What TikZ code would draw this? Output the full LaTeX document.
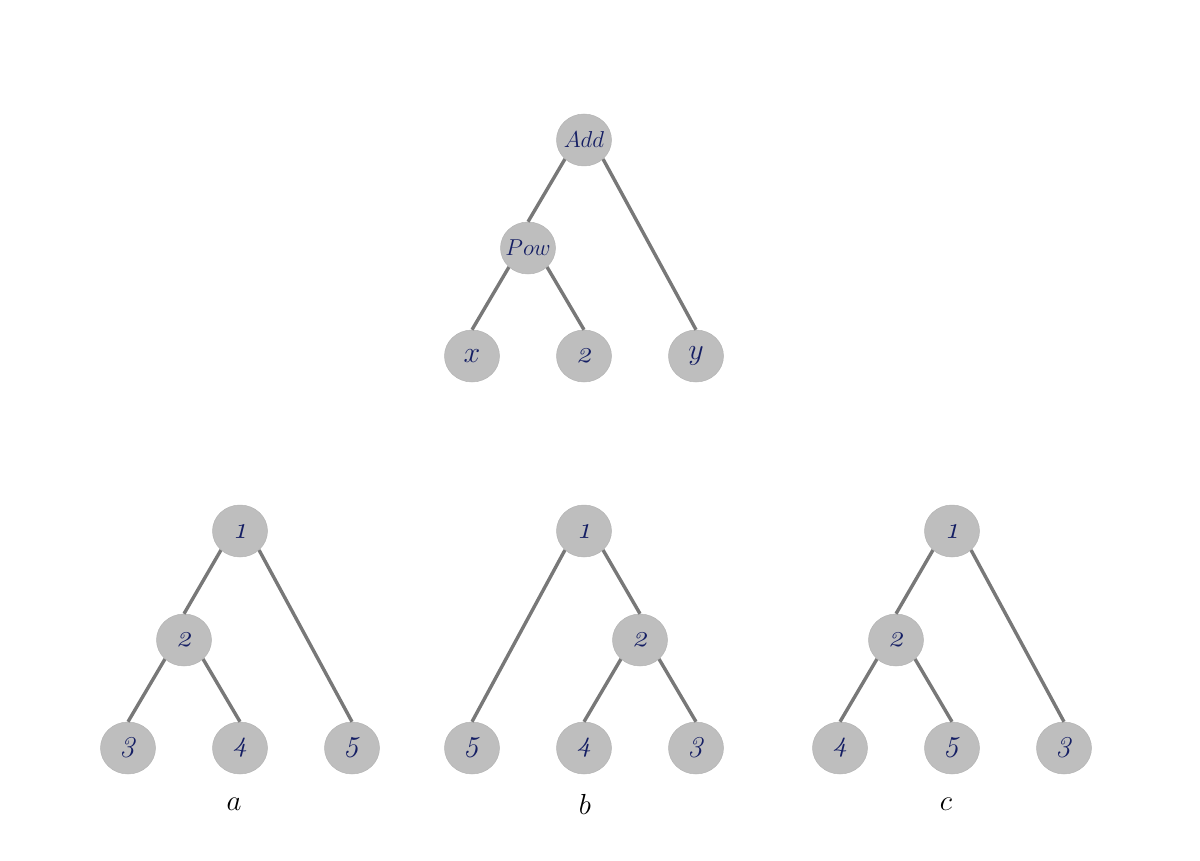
\RequirePackage{fix-cm}
\documentclass[tikz,border=0pt]{standalone}
\usepackage{fontspec}
\newfontfamily\osfont[Numbers=OldStyle]{Latin Modern Roman}
\usetikzlibrary{shapes.geometric}
\definecolor{nodefill}{RGB}{190,190,190}
\definecolor{edgegray}{RGB}{120,120,120}
\definecolor{txtblue}{RGB}{20,30,100}
\tikzset{
  tnode/.style={ellipse, fill=nodefill, draw=nodefill!95!black, line width=0.5pt, minimum width=55pt, minimum height=52pt, inner sep=0pt, text=txtblue},
  opnode/.style={tnode, font=\fontsize{23}{25}\selectfont},
  numnode/.style={tnode, font=\osfont\fontsize{30}{32}\selectfont\itshape},
  varnode/.style={tnode, font=\fontsize{30}{32}\selectfont},
  edge/.style={draw=edgegray, line width=3.4pt},
  treelabel/.style={font=\fontsize{29}{31}\selectfont, text=black}
}
\begin{document}
\begin{tikzpicture}[x=1pt,y=-1pt]
\useasboundingbox (0,0) rectangle (1200,861);
% top tree
\node[opnode] (add) at (584,140) {\makebox[30pt]{$Add$}};
\node[opnode] (pow) at (528,248) {\makebox[30pt]{$Pow$}};
\node[varnode] (x) at (472,356) {$x$};
\node[numnode] (two) at (584,356) {2};
\node[varnode] (y) at (696,356) {$y$};
% tree a
\node[numnode] (a1) at (240,531) {1};
\node[numnode] (a2) at (184,640) {2};
\node[numnode] (a3) at (128,748) {3};
\node[numnode] (a4) at (240,748) {4};
\node[numnode] (a5) at (352,748) {5};
\node[treelabel] (la) at (234,804) {$a$};
% tree b
\node[numnode] (b1) at (584,531) {1};
\node[numnode] (b2) at (640,640) {2};
\node[numnode] (b5) at (472,748) {5};
\node[numnode] (b4) at (584,748) {4};
\node[numnode] (b3) at (696,748) {3};
\node[treelabel] (lb) at (585,804) {$b$};
% tree c
\node[numnode] (c1) at (952,531) {1};
\node[numnode] (c2) at (896,640) {2};
\node[numnode] (c4) at (840,748) {4};
\node[numnode] (c5) at (952,748) {5};
\node[numnode] (c3) at (1064,748) {3};
\node[treelabel] (lc) at (946,804) {$c$};
% edges: left children from the parent's lower-left, right children from its lower-right
\foreach \p/\c in {add/pow, pow/x, a1/a2, a2/a3, b1/b5, b2/b4, c1/c2, c2/c4}
  \draw[edge] (\p.-135) -- (\c.north);
\foreach \p/\c in {add/y, pow/two, a1/a5, a2/a4, b1/b2, b2/b3, c1/c3, c2/c5}
  \draw[edge] (\p.-45) -- (\c.north);
\end{tikzpicture}
\end{document}
